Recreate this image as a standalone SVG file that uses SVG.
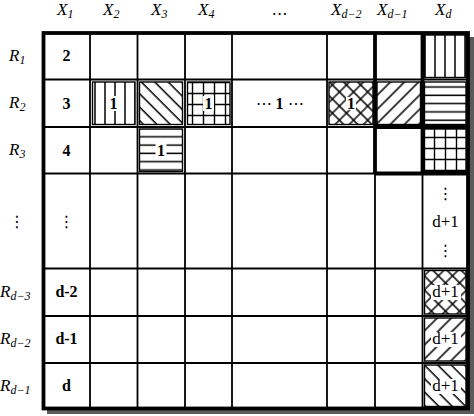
<svg xmlns="http://www.w3.org/2000/svg" width="474" height="416" viewBox="0 0 474 416">
<defs>
<style>
.lbl{font-family:"Liberation Serif","DejaVu Serif",serif;font-style:italic;font-size:17px;fill:#000}
.sub{font-size:12px}
.num{font-family:"Liberation Serif","DejaVu Serif",serif;font-weight:bold;font-size:16px;fill:#000;text-anchor:middle}
.dp{font-family:"Liberation Serif","DejaVu Serif",serif;font-size:17px;fill:#000;text-anchor:middle}
.dots{font-family:"DejaVu Sans",sans-serif;font-size:16px;fill:#000;text-anchor:middle}
.g{stroke:#000;stroke-width:1.4}
.l{stroke:#000;stroke-width:1.8;fill:none}
.t{stroke:#000;stroke-width:3.8;fill:none}
.bg{fill:#fff}
</style>
<pattern id="pv" patternUnits="userSpaceOnUse" width="10" height="10"><line x1="5" y1="0" x2="5" y2="10" stroke="#000" stroke-width="1.5"/></pattern>
<pattern id="ph" patternUnits="userSpaceOnUse" width="10" height="8.3"><line x1="0" y1="4" x2="10" y2="4" stroke="#000" stroke-width="1.5"/></pattern>
<pattern id="pg" patternUnits="userSpaceOnUse" width="11" height="11"><path d="M5.5,0V11M0,5.5H11" stroke="#000" stroke-width="1.4"/></pattern>
<pattern id="pb" patternUnits="userSpaceOnUse" width="9.5" height="10" patternTransform="rotate(-45)"><line x1="4" y1="0" x2="4" y2="10" stroke="#000" stroke-width="1.5"/></pattern>
<pattern id="pf" patternUnits="userSpaceOnUse" width="10" height="10" patternTransform="rotate(45)"><line x1="4" y1="0" x2="4" y2="10" stroke="#000" stroke-width="1.5"/></pattern>
<pattern id="px" patternUnits="userSpaceOnUse" width="10" height="10" patternTransform="rotate(45)"><path d="M5,0V10M0,5H10" stroke="#000" stroke-width="1.4"/></pattern>
</defs>
<rect width="474" height="416" fill="#fff"/>

<!-- column headers -->
<g id="headers">
<text class="lbl" x="57" y="15">X<tspan class="sub" dy="3">1</tspan></text>
<text class="lbl" x="103" y="15">X<tspan class="sub" dy="3">2</tspan></text>
<text class="lbl" x="151" y="15">X<tspan class="sub" dy="3">3</tspan></text>
<text class="lbl" x="198" y="15">X<tspan class="sub" dy="3">4</tspan></text>
<text class="dots" x="279.5" y="19">⋯</text>
<text class="lbl" x="331" y="15">X<tspan class="sub" dy="3">d−2</tspan></text>
<text class="lbl" x="377" y="15">X<tspan class="sub" dy="3">d−1</tspan></text>
<text class="lbl" x="435" y="15">X<tspan class="sub" dy="3">d</tspan></text>
</g>

<!-- row labels -->
<g id="rowlabels">
<text class="lbl" x="9" y="61">R<tspan class="sub" dy="3">1</tspan></text>
<text class="lbl" x="9" y="108">R<tspan class="sub" dy="3">2</tspan></text>
<text class="lbl" x="9" y="155">R<tspan class="sub" dy="3">3</tspan></text>
<text class="dots" x="17" y="227">⋮</text>
<text class="lbl" x="0" y="297">R<tspan class="sub" dy="3">d−3</tspan></text>
<text class="lbl" x="0" y="344">R<tspan class="sub" dy="3">d−2</tspan></text>
<text class="lbl" x="0" y="391">R<tspan class="sub" dy="3">d−1</tspan></text>
</g>

<!-- frame with shadow -->
<g id="frame">
<rect x="47" y="37" width="427" height="377" fill="#5a5a5a"/>
<rect x="43.5" y="33" width="424.5" height="375.5" fill="#fff"/>
</g>

<!-- hatched cells -->
<g id="cell-r1-xd"><rect x="424.5" y="35" width="41.5" height="42.5" fill="url(#pv)" class="g"/></g>
<g id="cell-r2-x2"><rect x="92.5" y="82" width="42.5" height="42.5" fill="url(#pv)" class="g"/><rect x="108" y="96" width="11" height="15" class="bg"/><text class="num" x="113.5" y="109">1</text></g>
<g id="cell-r2-x3"><rect x="139.5" y="82" width="43" height="42.5" fill="url(#pb)" class="g"/></g>
<g id="cell-r2-x4"><rect x="187.5" y="82" width="42.5" height="42.5" fill="url(#pg)" class="g"/><rect x="203" y="96" width="11" height="15" class="bg"/><text class="num" x="208.5" y="109">1</text></g>
<g id="cell-r2-xdots"><text class="num" x="279.5" y="109"><tspan font-weight="normal">⋯</tspan> 1 <tspan font-weight="normal">⋯</tspan></text></g>
<g id="cell-r2-xd2"><rect x="329" y="82" width="44" height="42.5" fill="url(#px)" class="g"/><rect x="346" y="97" width="10" height="13" class="bg"/><text class="num" x="351" y="109">1</text></g>
<g id="cell-r2-xd1"><rect x="377" y="82" width="43.5" height="42.5" fill="url(#pf)" class="g"/></g>
<g id="cell-r2-xd"><rect x="424.5" y="82" width="41.5" height="42.5" fill="url(#ph)" class="g"/></g>
<g id="cell-r3-x3"><rect x="139.5" y="129" width="43" height="42.5" fill="url(#ph)" class="g"/><rect x="155.5" y="143" width="11" height="15" class="bg"/><text class="num" x="161" y="156">1</text></g>
<g id="cell-r3-xd"><rect x="424.5" y="129" width="41.5" height="42.5" fill="url(#pg)" class="g"/></g>
<g id="cell-rd3-xd"><rect x="424.5" y="270.5" width="41.5" height="43.5" fill="url(#px)" class="g"/><rect x="431" y="285" width="30" height="15" class="bg"/><text class="dp" x="445.5" y="297">d+1</text></g>
<g id="cell-rd2-xd"><rect x="424.5" y="318" width="41.5" height="43" fill="url(#pf)" class="g"/><rect x="431" y="332" width="30" height="15" class="bg"/><text class="dp" x="445.5" y="344">d+1</text></g>
<g id="cell-rd1-xd"><rect x="424.5" y="365" width="41.5" height="41.5" fill="url(#pb)" class="g"/><rect x="431" y="379" width="30" height="15" class="bg"/><text class="dp" x="445.5" y="391">d+1</text></g>

<!-- first column values -->
<g id="col1">
<text class="num" x="66.5" y="61">2</text>
<text class="num" x="66.5" y="109">3</text>
<text class="num" x="66.5" y="156">4</text>
<text class="dots" x="66.5" y="227">⋮</text>
<text class="num" x="66.5" y="297">d-2</text>
<text class="num" x="66.5" y="344">d-1</text>
<text class="num" x="66.5" y="391">d</text>
</g>

<g id="cell-rdots-xd">
<text class="dots" x="445.5" y="199">⋮</text>
<text class="dp" x="445.5" y="227">d+1</text>
<text class="dots" x="445.5" y="256">⋮</text>
</g>

<!-- grid lines -->
<g id="connectors">
<path class="l" d="M90,33V408.5M137.5,33V408.5M185,33V408.5M232,33V408.5M327,33V408.5M375,173.5V408.5M422.5,173.5V408.5"/>
<path class="l" d="M43.5,79.5H468M43.5,127H375M43.5,173.5H375M43.5,268.5H468M43.5,316H468M43.5,363H468"/>
<path class="t" d="M375,33V173.5M422.5,33V173.5M375,127H468M375,173.5H468"/>
<rect class="t" x="43.5" y="33" width="424.5" height="375.5"/>
</g>
</svg>
